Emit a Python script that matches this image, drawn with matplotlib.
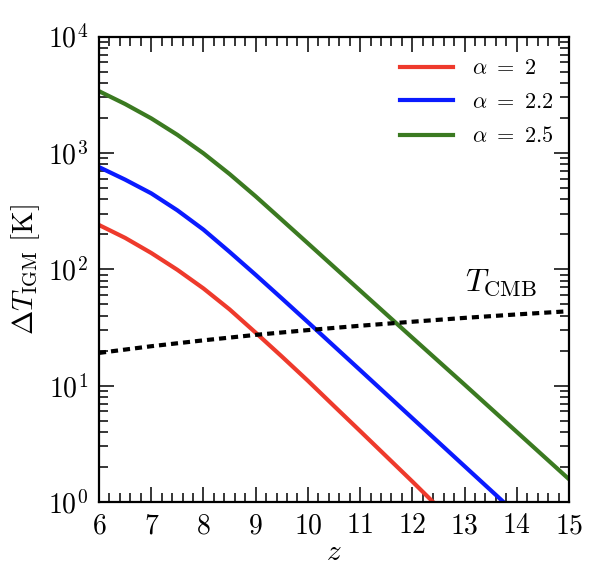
import matplotlib
matplotlib.use('Agg')
import matplotlib.pyplot as plt
from matplotlib.ticker import MultipleLocator, LogLocator, NullFormatter

plt.rcParams['mathtext.fontset'] = 'cm'
plt.rcParams['font.family'] = 'serif'
plt.rcParams['font.serif'] = ['cmr10', 'DejaVu Serif']
plt.rcParams['axes.formatter.use_mathtext'] = True

# heating curves, Delta T_IGM [K] vs z
z_a20 = [6, 6.5, 7, 7.5, 8, 8.5, 9, 9.5, 10, 10.5, 11, 12, 12.5]
t_a20 = [240, 186, 138, 98.9, 68.4, 45.2, 28.5, 17.8, 11.0, 6.68, 4.07, 1.50, 0.90]

z_a22 = [6, 6.5, 7, 7.5, 8, 8.5, 9, 9.5, 10, 11, 12, 13, 13.8]
t_a22 = [755, 589, 449, 321, 219, 141, 89.5, 56.2, 35.1, 13.6, 5.25, 2.03, 0.95]

z_a25 = [6, 6.5, 7, 7.5, 8, 8.5, 9, 9.5, 10, 11, 12, 13, 14, 15]
t_a25 = [3390, 2630, 1980, 1430, 991, 658, 423, 266, 167, 65.6, 25.8, 10.2, 4.0, 1.57]

z_cmb = [6, 7, 8, 9, 10, 11, 12, 13, 14, 15]
t_cmb = [19.1, 21.8, 24.5, 27.3, 30.0, 32.7, 35.4, 38.2, 40.9, 43.6]

labels = [r'$\alpha\ =\ 2$', r'$\alpha\ =\ 2.2$', r'$\alpha\ =\ 2.5$']
colors = ['#ee3a2c', '#0a1bff', '#3b7a21']

fig = plt.figure(figsize=(5.98, 5.76), dpi=100)
ax = fig.add_axes([0.1656, 0.1285, 0.7859, 0.8081])

for zz, tt, lab, c in zip([z_a20, z_a22, z_a25], [t_a20, t_a22, t_a25], labels, colors):
    ax.plot(zz, tt, color=c, lw=3, label=lab)

ax.plot(z_cmb, t_cmb, color='black', lw=3, linestyle=(0, (1.7, 1.2)),
        dash_capstyle='butt')
ax.text(13.0, 66, r'$T_{\rm CMB}$', fontsize=23, ha='left', va='baseline')

ax.set_yscale('log')
ax.set_xlim(6, 15)
ax.set_ylim(1, 1e4)
ax.xaxis.set_major_locator(MultipleLocator(1))
ax.xaxis.set_minor_locator(MultipleLocator(0.2))
ax.yaxis.set_major_locator(LogLocator(base=10, numticks=10))
ax.yaxis.set_minor_locator(LogLocator(base=10, subs=range(2, 10), numticks=20))
ax.yaxis.set_minor_formatter(NullFormatter())

ax.tick_params(which='both', direction='in', top=True, right=True, labelsize=20)
ax.tick_params(which='major', length=11, width=1.1, pad=8)
ax.tick_params(which='minor', length=6.5, width=1.1)
for sp in ax.spines.values():
    sp.set_linewidth(1.6)

ax.set_xlabel(r'$z$', fontsize=21, labelpad=0)
ax.set_ylabel(r'$\Delta T_{\rm IGM}\ [{\rm K}]$', fontsize=21, labelpad=4)

ax.legend(loc='upper right', bbox_to_anchor=(0.987, 0.971), frameon=False,
          fontsize=16, handlelength=2.4, handletextpad=0.86, labelspacing=0.64,
          borderaxespad=0)

fig.savefig('out.png', dpi=100)
